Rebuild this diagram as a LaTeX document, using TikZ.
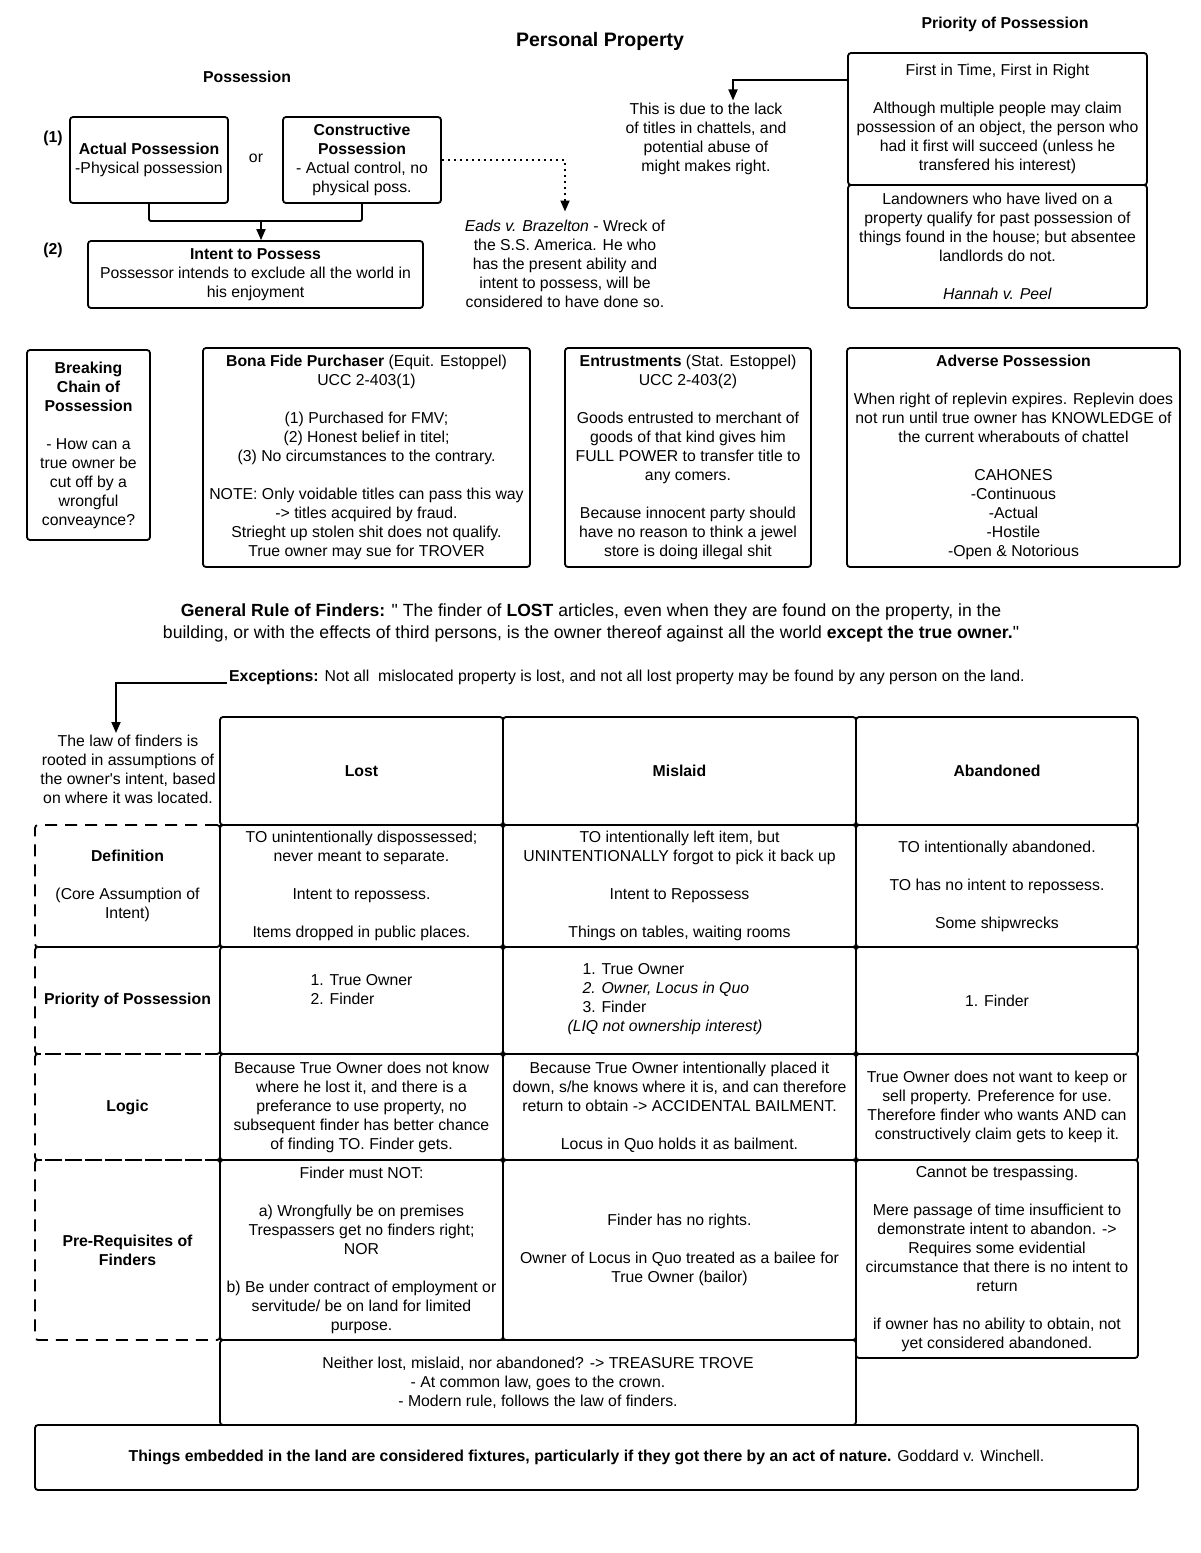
\documentclass[tikz,border=0pt]{standalone}
\usepackage{fontspec}
\setmainfont{Liberation Sans}[Ligatures=TeXOff]
\usetikzlibrary{arrows.meta}

\tikzset{
  cell/.style={draw, line width=1.8pt, rounded corners=3pt, align=center, inner sep=0pt},
  rowhead/.style={cell, dash pattern=on 12pt off 8pt},
  note/.style={align=center, inner sep=2pt},
  link/.style={line width=1.8pt, -{Triangle[length=11pt,width=9pt]}},
}

\begin{document}
\begin{tikzpicture}[x=1pt,y=-1pt,every node/.style={font=\fontsize{15.8}{19}\selectfont}]
\fill[white] (0,0) rectangle (1200,1553);
\useasboundingbox (0,0) rectangle (1200,1553);

%Headings
\node[note, font=\bfseries\fontsize{19.5}{22}\selectfont] (title) at (600,41) {Personal Property};
\node[note, font=\bfseries\fontsize{15.8}{19}\selectfont] (posshead) at (247,77) {Possession};
\node[note, font=\bfseries\fontsize{15.8}{19}\selectfont] (priohead) at (1005,24) {Priority of Possession};

%Possession
\node[note, font=\bfseries\fontsize{15.8}{19}\selectfont] (one) at (53,138) {(1)};
\node[note, font=\bfseries\fontsize{15.8}{19}\selectfont] (two) at (53,250) {(2)};
\node[cell, minimum width=158pt, minimum height=86pt] (actual) at (149,160) {\textbf{Actual Possession}\\-Physical possession};
\node[note] (or) at (256,158) {or};
\node[cell, minimum width=158pt, minimum height=86pt] (constr) at (362,160) {\textbf{Constructive}\\\textbf{Possession}\\- Actual control, no\\physical poss.};
\node[cell, minimum width=335pt, minimum height=67pt] (intent) at (255.5,274.5) {\textbf{Intent to Possess}\\Possessor intends to exclude all the world in\\his enjoyment};

\coordinate (join) at (261,221);
\draw[line width=1.8pt, rounded corners=2pt] (actual.south) |- (join) -| (constr.south);
\draw[link] (join) -- (join |- intent.north);

\node[note] (eads) at (565,263.5) {\textit{Eads v. Brazelton} - Wreck of\\the S.S. America. He who\\has the present ability and\\intent to possess, will be\\considered to have done so.};
\draw[link, dash pattern=on 2pt off 4pt] (constr.east) -| ([yshift=6pt]eads.north);

%Priority of possession
\node[note] (due) at (706,138.5) {This is due to the lack\\of titles in chattels, and\\potential abuse of\\might makes right.};
\node[cell, minimum width=299pt, minimum height=132pt] (first) at (997.5,119) {First in Time, First in Right\\[19pt]Although multiple people may claim\\possession of an object, the person who\\had it first will succeed (unless he\\transfered his interest)};
\node[cell, minimum width=299pt, minimum height=123pt] (landown) at (997.5,246.5) {Landowners who have lived on a\\property qualify for past possession of\\things found in the house; but absentee\\landlords do not.\\[19pt]\textit{Hannah v. Peel}};
\draw[link] ([yshift=39pt]first.west) -| ([xshift=27pt]due.north);

%Breaking the chain
\node[cell, minimum width=123pt, minimum height=190pt] (breaking) at (88.5,445) {\textbf{Breaking}\\\textbf{Chain of}\\\textbf{Possession}\\[19pt]- How can a\\true owner be\\cut off by a\\wrongful\\conveaynce?};
\node[cell, minimum width=327pt, minimum height=219pt] (bfp) at (366.5,457.5) {\textbf{Bona Fide Purchaser} (Equit. Estoppel)\\UCC 2-403(1)\\[19pt](1) Purchased for FMV;\\(2) Honest belief in titel;\\(3) No circumstances to the contrary.\\[19pt]NOTE: Only voidable titles can pass this way\\-> titles acquired by fraud.\\Strieght up stolen shit does not qualify.\\True owner may sue for TROVER};
\node[cell, minimum width=246pt, minimum height=219pt] (entrust) at (688,457.5) {\textbf{Entrustments} (Stat. Estoppel)\\UCC 2-403(2)\\[19pt]Goods entrusted to merchant of\\goods of that kind gives him\\FULL POWER to transfer title to\\any comers.\\[19pt]Because innocent party should\\have no reason to think a jewel\\store is doing illegal shit};
\node[cell, minimum width=333pt, minimum height=219pt] (adverse) at (1013.5,457.5) {\textbf{Adverse Possession}\\[19pt]When right of replevin expires. Replevin does\\not run until true owner has KNOWLEDGE of\\the current wherabouts of chattel\\[19pt]CAHONES\\-Continuous\\-Actual\\-Hostile\\-Open \& Notorious};

%Finders
\node[note, font=\fontsize{17.6}{22}\selectfont] (rule) at (591,623) {\textbf{General Rule of Finders:} " The finder of \textbf{LOST} articles, even when they are found on the property, in the\\building, or with the effects of third persons, is the owner thereof against all the world \textbf{except the true owner.}"};
\node[note, anchor=west, font=\fontsize{15.8}{19}\selectfont] (except) at (227,677) {\textbf{Exceptions:} Not all\ \ mislocated property is lost, and not all lost property may be found by any person on the land.};
\node[note] (law) at (128,769.5) {The law of finders is\\rooted in assumptions of\\the owner's intent, based\\on where it was located.};
\draw[link] ([yshift=-6pt]except.west) -| ([xshift=-12pt]law.north);

%Table
\node[cell, minimum width=283pt, minimum height=108pt] (losthead) at (361.5,771) {\textbf{Lost}};
\node[cell, minimum width=353pt, minimum height=108pt] (mislaidhead) at (679.5,771) {\textbf{Mislaid}};
\node[cell, minimum width=282pt, minimum height=108pt] (abandhead) at (997,771) {\textbf{Abandoned}};

\node[rowhead, minimum width=185pt, minimum height=122pt] (defrow) at (127.5,886) {\textbf{Definition}\\[19pt](Core Assumption of\\Intent)};
\node[rowhead, minimum width=185pt, minimum height=107pt] (prirow) at (127.5,1000.5) {\textbf{Priority of Possession}};
\node[rowhead, minimum width=185pt, minimum height=106pt] (logrow) at (127.5,1107) {\textbf{Logic}};
\node[rowhead, minimum width=185pt, minimum height=180pt] (prerow) at (127.5,1250) {\textbf{Pre-Requisites of}\\\textbf{Finders}};

%Definition
\node[cell, minimum width=283pt, minimum height=122pt] (deflost) at (361.5,886) {TO unintentionally dispossessed;\\never meant to separate.\\[19pt]Intent to repossess.\\[19pt]Items dropped in public places.};
\node[cell, minimum width=353pt, minimum height=122pt] (defmislaid) at (679.5,886) {TO intentionally left item, but\\UNINTENTIONALLY forgot to pick it back up\\[19pt]Intent to Repossess\\[19pt]Things on tables, waiting rooms};
\node[cell, minimum width=282pt, minimum height=122pt] (defaband) at (997,886) {TO intentionally abandoned.\\[19pt]TO has no intent to repossess.\\[19pt]Some shipwrecks};

%Priority
\node[cell, minimum width=283pt, minimum height=107pt] (prilost) at (361.5,1000.5) {};
\node[note, align=left] (prilosttext) at (361.5,989.5) {1. True Owner\\2. Finder};
\node[cell, minimum width=353pt, minimum height=107pt] (primislaid) at (679.5,1000.5) {};
\node[note, align=left] (primislaidtext) at (665,999) {\hspace*{15pt}1. True Owner\\\hspace*{15pt}\textit{2. Owner, Locus in Quo}\\\hspace*{15pt}3. Finder\\\textit{(LIQ not ownership interest)}};
\node[cell, minimum width=282pt, minimum height=107pt] (priaband) at (997,1000.5) {1. Finder};

%Logic
\node[cell, minimum width=283pt, minimum height=106pt] (loglost) at (361.5,1107) {Because True Owner does not know\\where he lost it, and there is a\\preferance to use property, no\\subsequent finder has better chance\\of finding TO. Finder gets.};
\node[cell, minimum width=353pt, minimum height=106pt] (logmislaid) at (679.5,1107) {Because True Owner intentionally placed it\\down, s/he knows where it is, and can therefore\\return to obtain -> ACCIDENTAL BAILMENT.\\[19pt]Locus in Quo holds it as bailment.};
\node[cell, minimum width=282pt, minimum height=106pt] (logaband) at (997,1107) {True Owner does not want to keep or\\sell property. Preference for use.\\Therefore finder who wants AND can\\constructively claim gets to keep it.};

%Pre-requisites
\node[cell, minimum width=283pt, minimum height=180pt] (prelost) at (361.5,1250) {Finder must NOT:\\[19pt]a) Wrongfully be on premises\\Trespassers get no finders right;\\NOR\\[19pt]b) Be under contract of employment or\\servitude/ be on land for limited\\purpose.};
\node[cell, minimum width=353pt, minimum height=180pt] (premislaid) at (679.5,1250) {Finder has no rights.\\[19pt]Owner of Locus in Quo treated as a bailee for\\True Owner (bailor)};
\node[cell, minimum width=282pt, minimum height=198pt] (preaband) at (997,1259) {Cannot be trespassing.\\[19pt]Mere passage of time insufficient to\\demonstrate intent to abandon. ->\\Requires some evidential\\circumstance that there is no intent to\\return\\[19pt]if owner has no ability to obtain, not\\yet considered abandoned.};

\node[cell, minimum width=636pt, minimum height=85pt] (treasure) at (538,1382.5) {Neither lost, mislaid, nor abandoned? -> TREASURE TROVE\\- At common law, goes to the crown.\\- Modern rule, follows the law of finders.};

\node[cell, minimum width=1103pt, minimum height=65pt, font=\fontsize{15.8}{19}\selectfont] (embedded) at (586.5,1457.5) {\textbf{Things embedded in the land are considered fixtures, particularly if they got there by an act of nature.} Goddard v. Winchell.};

\end{tikzpicture}
\end{document}
